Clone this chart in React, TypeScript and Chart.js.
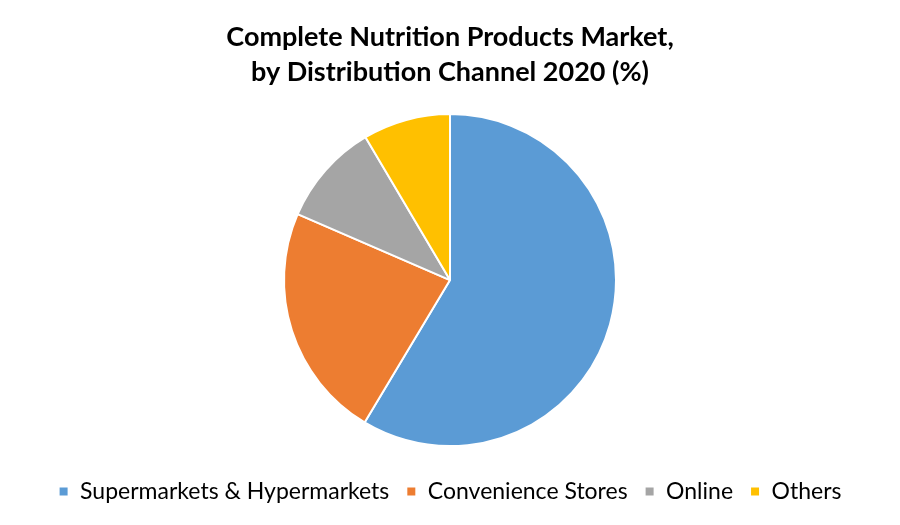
import React, { useEffect, useRef } from "react";
import { Chart, registerables } from "chart.js";

Chart.register(...registerables);

const categories = ["Supermarkets & Hypermarkets", "Convenience Stores", "Online", "Others"];
const shares = [58.6, 22.9, 10.0, 8.5];
const colors = ["#5B9BD5", "#ED7D31", "#A5A5A5", "#FFC000"];
const titleLines = ["Complete Nutrition Products Market,", "by Distribution Channel 2020 (%)"];

export default function App() {
  const ref = useRef<HTMLCanvasElement | null>(null);
  useEffect(() => {
    document.body.style.margin = "0";
    if (!ref.current) return;
    const chart = new Chart(ref.current, {
      type: "pie",
      data: {
        labels: categories,
        datasets: [
          {
            data: shares,
            backgroundColor: colors,
            borderColor: "#FFFFFF",
            borderWidth: 2,
          },
        ],
      },
      options: {
        animation: false,
        responsive: false,
        radius: 166,
        layout: { padding: { top: 0, bottom: 12, left: 0, right: 0 } },
        plugins: {
          title: {
            display: true,
            text: titleLines,
            color: "#000000",
            font: { family: "Lato", size: 27, weight: "bold", lineHeight: 1.3 },
            padding: { top: 20, bottom: 7 },
          },
          legend: {
            position: "bottom",
            labels: {
              color: "#000000",
              boxWidth: 10,
              boxHeight: 10,
              padding: 17,
              font: { family: "Lato", size: 23 },
            },
          },
          tooltip: { enabled: false },
        },
      },
    });
    return () => chart.destroy();
  }, []);
  return (
    <div style={{ position: "fixed", left: 0, top: 0, width: 900, height: 525, background: "#fff" }}>
      <canvas ref={ref} width={900} height={525} style={{ width: 900, height: 525 }} />
    </div>
  );
}
